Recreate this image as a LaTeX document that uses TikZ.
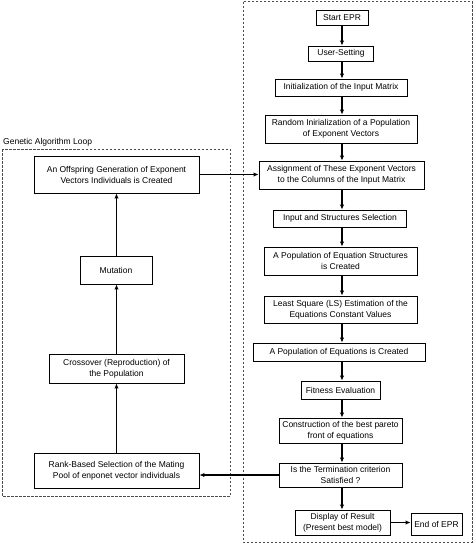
\documentclass[tikz,border=0pt]{standalone}
\usepackage{fontspec}
\setmainfont{Liberation Sans}
\usetikzlibrary{arrows.meta}
\begin{document}
\begin{tikzpicture}[x=1pt,y=-1pt,
  box/.style={draw=black,line width=0.9pt,fill=white,inner sep=0pt,align=center,
    font=\fontsize{8.5}{11}\selectfont},
  flow/.style={line width=1.1pt,-{Latex[length=5pt,width=4.5pt]}},
  region/.style={draw=black!70,line width=0.8pt,dash pattern=on 2.5pt off 1.5pt}]
\useasboundingbox (0,0) rectangle (474,544);
% regions
\draw[region] (243,1.5) rectangle (472,542);
\draw[region] (2,149) rectangle (230,496);
\node[anchor=south west,inner sep=0pt,font=\fontsize{8.5}{10}\selectfont] (galabel) at (3,146.5) {Genetic Algorithm Loop};
% right column
\node[box,minimum width=52pt,minimum height=15pt] (start) at (342,17.5) {Start EPR};
\node[box,minimum width=65pt,minimum height=15pt] (user) at (341,53.5) {User-Setting};
\node[box,minimum width=132pt,minimum height=17pt] (init) at (341,87.5) {Initialization of the Input Matrix};
\node[box,minimum width=152pt,minimum height=28pt] (rand) at (341,129) {Random Inirialization of a Population\\of Exponent Vectors};
\node[box,minimum width=165pt,minimum height=28pt] (assign) at (341.5,175) {Assignment of These Exponent Vectors\\to the Columns of the Input Matrix};
\node[box,minimum width=133pt,minimum height=17pt] (input) at (340,218.5) {Input and Structures Selection};
\node[box,minimum width=153pt,minimum height=28pt] (popstr) at (340.5,261) {A Population of Equation Structures\\is Created};
\node[box,minimum width=153pt,minimum height=27pt] (ls) at (340.5,309.5) {Least Square (LS) Estimation of the\\Equations Constant Values};
\node[box,minimum width=172pt,minimum height=18pt] (popeq) at (339,352) {A Population of Equations is Created};
\node[box,minimum width=79pt,minimum height=18pt] (fit) at (340.5,390) {Fitness Evaluation};
\node[box,minimum width=123pt,minimum height=25pt] (pareto) at (340.5,430.5) {Construction of the best pareto\\front of equations};
\node[box,minimum width=123pt,minimum height=24pt] (term) at (340.5,475) {Is the Termination criterion\\Satisfied ?};
\node[box,minimum width=95pt,minimum height=25pt] (disp) at (342.5,522.5) {Display of Result\\(Present best model)};
\node[box,minimum width=51pt,minimum height=22pt] (endepr) at (436.5,524) {End of EPR};
% left column
\node[box,minimum width=165pt,minimum height=37pt] (off) at (116.5,174.5) {An Offspring Generation of Exponent\\Vectors Individuals is Created};
\node[box,minimum width=72pt,minimum height=28pt] (mut) at (116,270) {Mutation};
\node[box,minimum width=135pt,minimum height=29pt] (cross) at (116.5,368.5) {Crossover (Reproduction) of\\the Population};
\node[box,minimum width=165pt,minimum height=35pt] (rank) at (116.5,470.5) {Rank-Based Selection of the Mating\\Pool of enponet vector individuals};
% flow right
\draw[flow] (start.south) -- (start.south |- user.north);
\draw[flow] (start.south |- user.south) -- (start.south |- init.north);
\draw[flow] (start.south |- init.south) -- (start.south |- rand.north);
\draw[flow] (start.south |- rand.south) -- (start.south |- assign.north);
\draw[flow] (start.south |- assign.south) -- (start.south |- input.north);
\draw[flow] (start.south |- input.south) -- (start.south |- popstr.north);
\draw[flow] (start.south |- popstr.south) -- (start.south |- ls.north);
\draw[flow] (start.south |- ls.south) -- (start.south |- popeq.north);
\draw[flow] (start.south |- popeq.south) -- (start.south |- fit.north);
\draw[flow] (start.south |- fit.south) -- (start.south |- pareto.north);
\draw[flow] (start.south |- pareto.south) -- (start.south |- term.north);
\draw[flow] (start.south |- term.south) -- (start.south |- disp.north);
\draw[flow] (disp.east) -- (disp.east -| endepr.west);
% loop
\draw[flow] (term.west) -- (term.west -| rank.east);
\draw[flow] (rank.north) -- (rank.north |- cross.south);
\draw[flow] (rank.north |- cross.north) -- (rank.north |- mut.south);
\draw[flow] (rank.north |- mut.north) -- (rank.north |- off.south);
\draw[flow] (off.east) -- (off.east -| assign.west);
\end{tikzpicture}
\end{document}
